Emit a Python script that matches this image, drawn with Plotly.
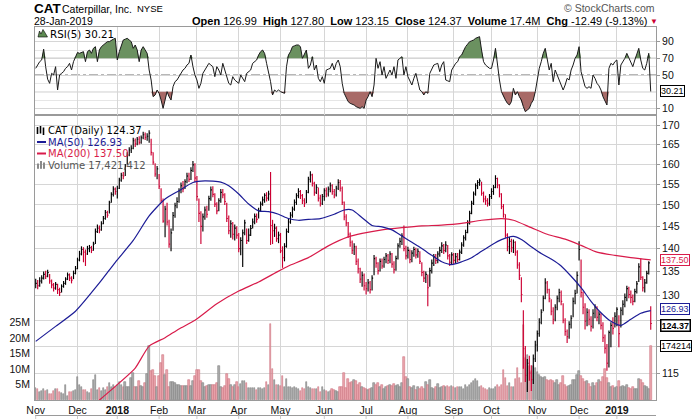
import numpy as np
import plotly.graph_objects as go

# ---------------- data ----------------
close_2017_11 = [132.5,132.0,133.0,133.6,134.4,134.0,134.8,133.0,132.2,131.5,132.3,131.2,130.6,131.9,132.5,133.4,134.3,133.6,133.2,134.6,135.6]
high_2017_11  = [133.5,133.2,133.8,134.2,135.0,135.2,135.4,134.5,133.3,132.6,132.8,132.4,131.6,132.3,133.0,133.8,134.8,134.6,134.0,135.2,136.2]
low_2017_11   = [131.5,131.3,131.8,132.5,133.3,133.4,133.8,132.4,131.5,130.8,131.2,130.3,129.9,130.6,131.6,132.2,133.2,133.0,132.5,133.4,134.4]
vol_2017_11   = [3.9,3.4,2.5,2.8,3.5,2.8,3.1,2.0,2.0,2.8,3.4,3.5,2.5,2.3,2.0,5.0,1.2,2.5,2.5,2.8,3.1]
rsi_2017_11   = [58,62,66,68,81,60,45,40,52,50,60,32,50,52,54,58,60,64,56,66,72]

close_2017_12 = [137.5,138.8,139.8,139.2,138.8,140.0,140.2,139.6,141.0,143.8,144.6,144.2,145.6,146.8,148.2,147.6,150.5,152.5,153.8,153.2]
high_2017_12  = [138.0,139.5,140.5,140.3,139.8,140.6,140.8,140.6,141.5,144.5,145.4,145.2,146.2,147.4,148.8,148.6,151.0,153.0,154.5,154.2]
low_2017_12   = [135.5,137.2,138.5,137.0,136.2,138.6,139.2,139.0,139.5,141.0,143.5,143.4,144.0,145.5,146.5,147.0,148.0,150.5,152.0,152.4]
vol_2017_12   = [7.4,5.0,4.2,3.1,3.1,2.5,2.3,3.4,6.6,8.2,3.1,3.9,2.8,3.9,3.1,4.2,5.5,4.2,5.0,4.2]
rsi_2017_12   = [77,76,77,78,66,78,80,76,82,84,66,80,84,86,88,90,90,92,93,94]

close_2018_01 = [154.0,156.0,157.2,157.0,159.5,162.3,163.6,164.0,166.0,165.2,166.4,165.6,166.8,167.6,166.9,167.2,168.0,163.0,160.5,157.5,158.8]
high_2018_01  = [154.6,156.6,157.8,158.0,160.0,163.0,164.3,164.8,166.8,166.6,167.0,167.2,167.4,168.4,168.2,168.0,168.8,166.5,163.0,160.2,159.5]
low_2018_01   = [151.5,153.8,155.6,156.2,157.0,159.8,162.0,162.8,163.8,164.4,164.8,165.0,165.2,166.4,166.2,166.0,165.5,162.2,159.8,156.8,156.2]
vol_2018_01   = [5.0,5.7,5.0,4.2,5.7,4.2,4.2,7.1,8.7,4.2,4.2,6.0,4.6,4.2,5.5,8.5,17.3,9.2,9.8,7.8,4.2]
rsi_2018_01   = [68,78,84,92,93,94,92,90,82,86,80,66,80,84,80,76,56,44,24,26,32]

close_2018_02 = [154.5,151.0,146.2,149.0,146.0,141.0,143.5,147.5,149.8,150.8,153.4,154.6,153.8,155.6,157.0,156.2,158.4,159.8,156.5]
high_2018_02  = [157.5,154.0,151.5,149.8,150.5,146.5,144.5,148.3,150.5,151.8,154.0,155.4,155.8,156.2,157.8,157.8,159.2,160.8,160.2]
low_2018_02   = [153.8,150.5,145.8,142.5,145.2,140.2,139.4,144.0,147.0,149.2,150.5,152.8,153.0,153.8,155.2,155.5,156.0,158.0,155.5]
vol_2018_02   = [7.8,11.9,14.6,8.2,9.6,4.2,5.7,5.7,5.5,5.0,5.0,4.4,4.6,4.4,4.6,6.3,4.4,6.0,7.8]
rsi_2018_02   = [28,20,10,20,30,24,20,36,42,44,48,52,56,58,62,64,74,60,50]

close_2018_03 = [152.0,148.0,145.0,147.2,148.8,147.8,151.5,153.6,152.5,150.2,148.6,151.0,153.0,152.4,150.8,146.8,144.0,145.6,143.2,144.6,143.0]
high_2018_03  = [157.0,151.5,148.5,148.0,149.6,149.8,152.2,154.4,154.5,152.8,150.6,151.6,153.8,153.8,152.8,150.5,147.5,146.4,146.0,145.4,145.0]
low_2018_03   = [151.0,146.0,141.0,143.8,146.5,147.0,148.6,151.0,151.8,149.5,147.8,148.5,150.5,151.6,150.0,146.0,143.2,142.4,142.0,141.8,142.2]
vol_2018_03   = [9.8,9.6,6.0,5.5,4.2,4.6,5.0,5.0,5.0,5.0,5.5,11.1,4.2,3.9,4.6,8.5,6.8,5.0,4.2,5.0,5.7]
rsi_2018_03   = [44,34,40,52,56,60,64,62,60,48,60,56,50,64,56,46,40,38,48,44,42]

close_2018_04 = [140.0,141.8,143.5,145.8,141.8,143.0,144.5,146.0,147.3,146.6,148.6,150.2,151.2,152.3,151.6,152.6,145.2,144.0,144.6,142.2,143.0]
high_2018_04  = [143.5,142.5,144.3,146.5,144.5,144.5,145.3,146.8,148.0,148.0,149.3,150.8,152.0,152.8,153.0,153.4,158.0,146.5,145.6,145.0,143.8]
low_2018_04   = [139.2,138.5,136.0,143.0,141.0,141.5,142.8,144.5,145.5,145.8,146.8,148.5,149.8,150.5,150.8,151.0,140.8,141.0,142.6,141.5,141.2]
vol_2018_04   = [4.2,5.3,6.0,6.2,5.5,3.9,3.9,3.9,3.9,3.1,3.9,3.9,3.4,3.9,5.7,5.0,24.6,10.0,6.6,5.0,5.0]
rsi_2018_04   = [40,50,46,42,52,54,56,64,66,68,74,78,80,76,64,54,42,26,32,30,32]

close_2018_05 = [139.5,138.0,140.5,143.8,146.0,147.6,149.0,150.6,152.2,153.2,152.2,151.0,150.4,153.0,156.2,157.3,155.2,153.0,154.2,151.6,150.4,152.0]
high_2018_05  = [143.5,140.5,141.2,144.5,146.8,148.3,149.6,151.3,152.8,154.0,153.6,152.6,151.6,153.6,156.8,158.2,157.6,155.6,155.0,154.2,152.4,152.6]
low_2018_05   = [139.0,135.8,137.2,140.2,143.5,145.6,147.0,148.6,150.0,151.6,151.4,150.2,149.5,150.4,152.8,155.4,154.4,152.2,152.6,150.8,149.6,150.0]
vol_2018_05   = [4.6,7.8,4.2,6.8,4.2,4.2,3.9,4.2,3.9,3.5,2.8,3.9,3.4,5.7,4.2,3.9,3.4,3.5,3.4,4.2,2.5,4.2]
rsi_2018_05   = [30,29,28,60,74,78,84,85,86,86,84,70,76,80,58,62,72,56,62,46,42,48]

close_2018_06 = [153.4,152.6,153.8,154.6,153.2,152.4,154.0,155.4,154.0,150.6,147.2,145.8,143.2,141.4,139.6,140.4,137.2,135.6,133.4,134.2,132.0]
high_2018_06  = [154.0,154.2,154.4,155.4,155.0,153.8,154.6,156.2,156.0,154.4,150.8,147.8,146.0,143.6,141.8,141.2,140.6,137.8,135.8,135.0,134.6]
low_2018_06   = [151.0,151.8,152.0,153.0,152.4,151.6,152.0,153.6,153.2,150.0,146.4,145.0,142.4,140.4,138.8,138.6,136.4,134.6,132.6,131.8,131.0]
vol_2018_06   = [3.1,2.8,2.5,2.8,3.5,3.1,2.8,2.5,4.2,4.2,8.7,3.9,6.8,5.5,5.7,6.3,6.0,5.0,5.5,4.2,3.9]
rsi_2018_06   = [40,56,57,58,64,56,64,68,60,40,28,22,18,16,15,14,12,11,10,12,10]

close_2018_07 = [131.4,132.6,131.2,133.6,137.8,136.8,135.2,137.2,136.2,137.6,138.4,137.4,138.8,136.6,135.4,137.8,140.6,141.6,142.8,140.0,138.4]
high_2018_07  = [132.8,133.4,133.0,134.2,138.6,138.2,137.0,137.8,137.8,138.2,139.0,138.8,139.4,139.0,137.2,138.4,141.2,142.4,143.4,145.2,140.6]
low_2018_07   = [130.2,130.8,130.4,131.0,134.2,135.8,134.4,135.0,135.6,135.8,136.8,136.6,136.8,135.8,134.6,135.2,137.6,140.2,140.8,139.4,137.6]
vol_2018_07   = [3.5,3.1,3.4,3.9,5.5,5.0,5.5,4.2,5.0,3.4,4.2,4.4,5.0,4.6,5.3,4.6,5.0,4.2,5.5,13.8,7.4]
rsi_2018_07   = [20,24,30,24,38,70,58,66,50,60,46,52,56,50,60,46,68,70,72,50,60]

close_2018_08 = [139.6,137.6,139.0,139.8,138.6,139.4,137.2,134.8,133.6,134.4,131.6,135.2,136.8,138.2,137.4,138.8,139.6,140.6,139.6,140.8,138.4,137.0,138.6]
high_2018_08  = [140.4,139.8,139.6,140.4,140.2,140.0,139.4,137.0,135.2,135.0,134.4,135.8,137.6,138.8,138.8,139.4,140.4,141.4,141.0,141.6,140.8,138.8,139.2]
low_2018_08   = [137.8,136.8,137.0,138.2,137.8,138.0,136.6,134.0,132.8,132.6,127.8,131.8,134.6,136.2,136.6,136.8,138.2,139.0,138.8,139.2,137.6,136.2,136.6]
vol_2018_08   = [6.8,4.2,3.9,4.6,3.1,4.2,3.5,4.2,3.5,5.7,5.0,6.6,3.9,3.4,4.2,5.3,3.9,4.2,4.4,4.2,4.6,4.2,4.6]
rsi_2018_08   = [48,42,38,46,52,42,32,30,26,30,28,52,58,62,63,64,54,62,66,44,43,42,56]

close_2018_09 = [137.4,138.2,137.6,139.2,140.8,142.4,143.6,145.8,148.0,150.4,152.6,154.6,155.4,155.8,152.8,151.4,151.0,150.4,152.0]
high_2018_09  = [139.0,139.0,139.0,139.8,141.4,143.0,144.2,146.4,148.6,151.0,153.2,155.2,156.0,156.4,155.6,153.2,152.2,151.6,152.6]
low_2018_09   = [136.6,136.8,137.0,137.4,138.8,140.4,141.8,143.4,145.4,147.8,150.0,152.2,153.8,154.6,152.2,150.6,150.0,149.6,149.8]
vol_2018_09   = [4.2,3.9,4.2,4.2,4.2,3.5,5.0,4.2,5.0,5.5,6.0,6.9,6.0,4.2,4.6,3.9,3.4,3.1,3.9]
rsi_2018_09   = [60,64,66,72,74,80,84,87,90,91,92,94,95,96,80,66,62,60,58]

close_2018_10 = [153.2,154.2,156.4,154.8,152.6,149.6,147.8,143.0,140.4,141.6,140.2,141.4,139.2,136.4,134.2,130.2,119.5,114.6,116.8,115.0,113.8,117.6,120.2]
high_2018_10  = [154.0,154.8,157.2,156.6,155.0,152.8,150.2,147.8,143.4,142.6,142.2,142.0,141.6,139.6,137.0,133.8,127.0,120.0,117.6,118.2,116.4,118.4,121.0]
low_2018_10   = [151.4,152.4,154.0,154.0,151.8,149.0,147.0,142.4,139.4,138.8,139.2,139.0,138.4,135.6,133.2,128.6,115.8,113.4,111.6,113.6,111.8,113.0,117.0]
vol_2018_10   = [3.5,3.5,4.2,5.0,4.2,5.0,9.6,7.1,4.6,5.5,4.2,4.2,6.8,10.3,7.1,5.5,24.3,13.5,14.6,10.9,9.3,10.9,10.3]
rsi_2018_10   = [58,68,82,60,44,30,24,20,16,14,18,34,26,30,24,20,12,6,8,10,16,20,30]

close_2018_11 = [122.4,124.6,126.6,129.4,132.6,131.2,129.4,126.8,125.2,127.6,129.4,130.6,128.8,125.0,122.8,121.8,124.2,125.4,128.8,130.4,134.2]
high_2018_11  = [123.0,125.4,127.2,130.0,133.6,133.0,131.4,129.2,127.6,128.2,130.0,131.4,131.0,128.4,125.4,123.2,124.8,126.0,129.6,131.2,135.0]
low_2018_11   = [119.0,121.8,124.2,126.8,129.2,130.4,128.6,126.0,124.2,124.8,127.0,128.6,128.0,124.4,122.0,120.6,121.4,123.4,125.6,128.2,130.4]
vol_2018_11   = [9.0,8.0,7.5,7.1,7.4,6.6,6.0,6.6,6.0,5.5,6.3,5.0,5.5,7.6,5.0,4.2,4.6,5.0,6.6,6.6,8.2]
rsi_2018_11   = [44,58,66,76,82,68,56,64,42,56,50,44,38,32,38,46,44,56,62,70,74]

close_2018_12 = [139.8,130.6,127.6,124.8,126.6,125.2,123.8,126.4,127.6,125.6,126.2,124.0,121.6,119.6,116.8,122.6,124.0,123.4,125.8]
high_2018_12  = [141.6,137.6,130.8,128.4,127.4,127.2,125.8,127.2,128.2,127.8,126.8,126.4,124.6,122.2,120.4,123.0,124.6,125.6,126.6]
low_2018_12   = [137.4,129.6,126.2,123.2,123.8,124.0,122.8,123.4,125.4,124.8,124.2,123.2,120.8,118.6,115.4,116.0,119.8,122.2,123.6]
vol_2018_12   = [9.2,7.8,6.8,5.7,6.0,5.3,4.2,5.5,4.6,5.5,6.6,5.7,7.4,10.0,7.1,5.5,4.2,4.6,3.9]
rsi_2018_12   = [84,54,44,36,34,36,34,50,46,40,37,32,24,18,14,58,64,62,66]

close_2019_01 = [127.2,122.4,127.0,128.2,129.6,131.4,130.2,129.6,128.8,130.8,132.4,136.0,133.8,131.6,132.6,134.6,136.86,124.37]
high_2019_01  = [127.6,126.0,127.6,129.0,130.4,132.0,131.8,131.0,130.2,131.4,133.0,136.8,137.8,134.0,133.4,135.2,137.2,127.80]
low_2019_01   = [123.8,119.8,123.6,126.0,127.6,128.8,129.4,128.4,128.0,128.6,130.4,132.8,133.2,130.8,130.6,132.4,134.4,123.15]
vol_2019_01   = [4.2,6.0,4.2,4.6,4.2,5.0,3.9,3.4,4.2,3.5,3.4,6.8,6.3,5.5,4.6,4.2,3.5,17.42]
rsi_2019_01   = [68,38,62,66,70,76,70,66,60,68,74,82,68,58,56,64,76,30.21]

month_labels = ['Nov', 'Dec', '<b>2018</b>', 'Feb', 'Mar', 'Apr', 'May', 'Jun',
                'Jul', 'Aug', 'Sep', 'Oct', 'Nov', 'Dec', '<b>2019</b>']
price_ticks = [115, 120, 125, 130, 135, 140, 145, 150, 155, 160, 165, 170]
price_tick_text = ['115', '', '', '130', '135', '140', '145', '150', '155', '160', '165', '170']  # 120/125 sit under tags
rsi_ticks = [10, 50, 70, 90]
vol_ticks = [5, 10, 15, 20, 25]
vol_tick_text = ['5M', '10M', '15M', '20M', '25M']

# moving averages read at sample days (trading-day index)
ma50_day = [0,10,20,32,40,49,57,65,72,79,85,93,97,102,107,112,117,122,127,132,137,143,150,155,159,164,169,174,179,184,189,194,199,204,209,214,219,224,229,234,240,244,249,254,259,264,269,274,279,284,289,294,299,304,309]
ma50_val = [120.9,123.8,126.8,132.6,137.0,141.8,147.4,151.4,153.4,155.4,155.8,155.5,154.6,152.6,150.2,148.6,148.4,147.8,146.8,146.4,146.6,146.8,147.8,148.8,148.8,147.0,145.2,144.9,144.2,142.8,141.4,140.0,138.5,137.1,136.5,137.1,138.0,139.4,140.8,142.0,142.7,142.0,140.4,138.9,137.7,136.2,134.0,131.6,128.8,126.5,124.8,124.0,125.2,126.4,126.93]
ma200_day = [30,40,50,57,65,72,80,91,102,112,122,127,137,147,157,164,174,184,194,204,214,224,234,240,249,257,266,274,282,291,299,309]
ma200_val = [109.6,112.6,115.9,120.0,121.6,123.3,125.0,128.3,130.9,132.8,135.1,136.2,138.0,140.6,142.6,143.4,144.2,144.7,145.1,145.3,145.7,146.4,146.8,146.4,144.7,143.2,142.1,140.7,139.2,138.5,138.0,137.50]
last_volume = 17421412

months = ['2017_11', '2017_12', '2018_01', '2018_02', '2018_03', '2018_04', '2018_05', '2018_06',
          '2018_07', '2018_08', '2018_09', '2018_10', '2018_11', '2018_12', '2019_01']
g = globals()
close = sum((g['close_' + m] for m in months), [])
high = sum((g['high_' + m] for m in months), [])
low = sum((g['low_' + m] for m in months), [])
vol = sum((g['vol_' + m] for m in months), [])
rsi = sum((g['rsi_' + m] for m in months), [])
month_start = list(np.cumsum([0] + [len(g['close_' + m]) for m in months[:-1]]))

n = len(close)
days = np.arange(n)
c = np.array(close)
r = np.array(rsi, dtype=float)
up = np.r_[True, c[1:] >= c[:-1]]
last = n - 1

# ---------------- geometry ----------------
W, H = 694, 419
PL, PR, PT, PB = 35, 656.5, 27, 400
SPLIT = 115
PW, PH = PR - PL, PB - PT
def pxx(x): return (x - PL) / PW
def pyy(y): return (PB - y) / PH
main_top = pyy(SPLIT)

UPC, DNC = '#000000', '#cc0033'
MA50C, MA200C = '#1c1c96', '#d81b4a'
GRID = '#d6d6d6'
AX = '#9a9a9a'
FT = 'Liberation Sans, Arial, sans-serif'
FL = 'DejaVu Sans, Verdana, sans-serif'

fig = go.Figure()

# volume (base axis y, drawn under price)
vcol = np.where(up, '#adadad', '#eba6ae')
vline = np.where(up, '#7f7f7f', '#cc7482')
fig.add_trace(go.Bar(x=days, y=vol, xaxis='x', yaxis='y', width=0.78,
                     marker=dict(color=list(vcol), line=dict(color=list(vline), width=0.6)),
                     hoverinfo='skip', showlegend=False))

# price HLC bars
def segs(mask):
    xs, ys = [], []
    for i in days[mask]:
        xs += [i, i, None, i, i + 0.55, None]
        ys += [low[i], high[i], None, close[i], close[i], None]
    return xs, ys
for mask, col in ((up, UPC), (~up, DNC)):
    xs, ys = segs(mask)
    fig.add_trace(go.Scatter(x=xs, y=ys, xaxis='x', yaxis='y3', mode='lines',
                             line=dict(color=col, width=1.15), hoverinfo='skip', showlegend=False))

fig.add_trace(go.Scatter(x=ma200_day, y=ma200_val, xaxis='x', yaxis='y3', mode='lines',
                         line=dict(color=MA200C, width=1.2, shape='spline', smoothing=0.6),
                         showlegend=False, hoverinfo='skip'))
fig.add_trace(go.Scatter(x=ma50_day, y=ma50_val, xaxis='x', yaxis='y3', mode='lines',
                         line=dict(color=MA50C, width=1.2, shape='spline', smoothing=0.6),
                         showlegend=False, hoverinfo='skip'))

# RSI panel
clear = dict(width=0, color='rgba(0,0,0,0)')
fig.add_trace(go.Scatter(x=days, y=np.full(n, 70.0), xaxis='x2', yaxis='y2', mode='lines',
                         line=clear, showlegend=False, hoverinfo='skip'))
fig.add_trace(go.Scatter(x=days, y=np.fmax(r, 70), xaxis='x2', yaxis='y2', mode='lines',
                         fill='tonexty', fillcolor='#6b9160', line=clear, showlegend=False, hoverinfo='skip'))
fig.add_trace(go.Scatter(x=days, y=np.full(n, 30.0), xaxis='x2', yaxis='y2', mode='lines',
                         line=clear, showlegend=False, hoverinfo='skip'))
fig.add_trace(go.Scatter(x=days, y=np.fmin(r, 30), xaxis='x2', yaxis='y2', mode='lines',
                         fill='tonexty', fillcolor='#a86a67', line=clear, showlegend=False, hoverinfo='skip'))
fig.add_trace(go.Scatter(x=days, y=r, xaxis='x2', yaxis='y2', mode='lines',
                         line=dict(color='#1a1a1a', width=1), showlegend=False, hoverinfo='skip'))

XR = [-0.35, -0.35 + PW / 1.992]

# tag pointers (outside plot, not clipped)
tx = XR[1] + 2.0
ptr = dict(symbol='triangle-left', size=8, color='white')
fig.add_trace(go.Scatter(x=[tx], y=[r[last]], xaxis='x2', yaxis='y2', mode='markers', cliponaxis=False,
                         marker=dict(**ptr, line=dict(color='black', width=1)),
                         showlegend=False, hoverinfo='skip'))
fig.add_trace(go.Scatter(x=[tx, tx, tx], y=[ma200_val[-1], ma50_val[-1], close[last]], xaxis='x', yaxis='y3',
                         mode='markers', cliponaxis=False,
                         marker=dict(**ptr, line=dict(color=[MA200C, MA50C, 'black'], width=1)),
                         showlegend=False, hoverinfo='skip'))
fig.add_trace(go.Scatter(x=[tx], y=[vol[last]], xaxis='x', yaxis='y', mode='markers', cliponaxis=False,
                         marker=dict(**ptr, line=dict(color='black', width=1)),
                         showlegend=False, hoverinfo='skip'))

lo, hi = 110.2, 172.9
tf = dict(family=FT, size=10.5, color='#111')
fig.update_layout(
    width=W, height=H, margin=dict(l=PL, r=W - PR, t=PT, b=H - PB, autoexpand=False),
    paper_bgcolor='white', plot_bgcolor='white', showlegend=False, bargap=0,
    xaxis=dict(domain=[0, 1], anchor='y', range=XR, tickmode='array', tickvals=month_start,
               ticktext=month_labels, showgrid=True, gridcolor=GRID, gridwidth=1, ticks='',
               tickfont=tf, showline=True, linecolor=AX, automargin=False,
               mirror=True, zeroline=False),
    xaxis2=dict(domain=[0, 1], anchor='y2', matches='x', range=XR, tickmode='array', tickvals=month_start,
                showticklabels=False, showgrid=True, gridcolor=GRID, ticks='', showline=True,
                linecolor=AX, mirror=True, zeroline=False, automargin=False),
    yaxis=dict(domain=[0, main_top], anchor='x', range=[0, (PB - SPLIT) / 3.1], side='left',
               tickmode='array', tickvals=vol_ticks, ticktext=vol_tick_text,
               showgrid=False, zeroline=False, ticks='', tickfont=tf, automargin=False,
               showline=True, linecolor=AX, mirror=True, ticklabelstandoff=2),
    yaxis3=dict(overlaying='y', anchor='x', side='right', type='log',
                range=[np.log10(lo), np.log10(hi)], tickmode='array',
                tickvals=price_ticks, ticktext=price_tick_text,
                showgrid=True, gridcolor=GRID, zeroline=False, ticks='outside', ticklen=3, tickcolor=AX,
                tickfont=tf, showline=False, automargin=False),
    yaxis2=dict(domain=[main_top, 1], anchor='x2', side='right', range=[2, 107.6],
                tickmode='array', tickvals=rsi_ticks, showgrid=True, gridcolor=GRID,
                minor=dict(tickvals=[20, 30, 40, 60, 80], showgrid=True, gridcolor='#e6e6e6'),
                zeroline=False, ticks='outside', ticklen=3, tickcolor=AX, automargin=False,
                tickfont=tf, showline=True, linecolor=AX, mirror=True),
)

# legend row positions (px)
ROW = [130.5, 142.0, 153.5, 165.0]

shapes = []
for lvl, dash in ((70, 'solid'), (30, 'solid'), (50, 'dashdot')):
    shapes.append(dict(type='line', xref='x2 domain', yref='y2', x0=0, x1=1, y0=lvl, y1=lvl,
                       line=dict(color='#6e6e6e', width=1, dash=dash), layer='below'))
# partial lower panel border
shapes.append(dict(type='line', xref='paper', yref='paper', x0=0, x1=1, y0=pyy(415.5), y1=pyy(415.5),
                   line=dict(color=AX, width=1)))
for ms in month_start:
    shapes.append(dict(type='line', xref='x', yref='paper', x0=ms, x1=ms, y0=pyy(415.5), y1=pyy(420),
                       line=dict(color='#c8c8c8', width=1)))
# legend icons
def poly(pts, fill, line='black', lw=0.6):
    p = 'M ' + ' L '.join(f'{pxx(x):.5f},{pyy(y):.5f}' for x, y in pts) + ' Z'
    return dict(type='path', xref='paper', yref='paper', path=p, fillcolor=fill, line=dict(color=line, width=lw))
shapes.append(poly([(38, 37), (39.5, 31), (41, 34), (43, 29.5), (45.5, 33.5), (47.5, 37)], '#5d8a52'))
for xx, d0, d1 in ((37.5, -3.5, 3.5), (40.5, -4.5, 3.0), (43.5, -3.0, 4.5)):
    shapes.append(dict(type='line', xref='paper', yref='paper', x0=pxx(xx), x1=pxx(xx),
                       y0=pyy(ROW[0] + d0), y1=pyy(ROW[0] + d1), line=dict(color='black', width=1.6)))
shapes.append(dict(type='line', xref='paper', yref='paper', x0=pxx(37), x1=pxx(46), y0=pyy(ROW[1]), y1=pyy(ROW[1]),
                   line=dict(color=MA50C, width=2)))
shapes.append(dict(type='line', xref='paper', yref='paper', x0=pxx(37), x1=pxx(46), y0=pyy(ROW[2]), y1=pyy(ROW[2]),
                   line=dict(color=MA200C, width=2)))
for xx, top in ((38, -1.5), (41, -4.0), (44, -2.5)):
    shapes.append(dict(type='rect', xref='paper', yref='paper', x0=pxx(xx - 1), x1=pxx(xx + 1),
                       y0=pyy(ROW[3] + 3.8), y1=pyy(ROW[3] + top), fillcolor='#8a8a8a', line=dict(width=0)))
fig.update_layout(shapes=shapes)

ann = []
def txt(x, y, s, size=10.5, color='#000', family=FT, anchor='left'):
    ann.append(dict(xref='paper', yref='paper', x=pxx(x), y=pyy(y), text=s, showarrow=False,
                    xanchor=anchor, yanchor='middle', borderpad=0,
                    font=dict(family=family, size=size, color=color)))
txt(33, 8.5, '<b>CAT</b>', size=13.5)
txt(61, 9, 'Caterpillar, Inc.', size=10.5)
txt(136, 9, 'NYSE', size=9.5)
txt(33, 21, '28-Jan-2019', size=10.5)
txt(656, 7.5, '© StockCharts.com', size=10.5, color='#555', anchor='right')
txt(648.5, 21, '<b>Open</b> 126.99  <b>High</b> 127.80  <b>Low</b> 123.15  <b>Close</b> 124.37  '
               '<b>Volume</b> 17.4M  <b>Chg</b> -12.49 (-9.13%)', size=11, anchor='right')
txt(649.5, 21.5, '▼', size=8, color=DNC)
txt(49, 33.5, 'RSI(5) %.2f' % r[last], size=10.3, family=FL)
txt(47.5, ROW[0], 'CAT (Daily) %.2f' % close[last], size=10, family=FL)
txt(47, ROW[1], 'MA(50) %.2f' % ma50_val[-1], size=10, family=FL, color=MA50C)
txt(47, ROW[2], 'MA(200) %.2f' % ma200_val[-1], size=10, family=FL, color=MA200C)
txt(47, ROW[3], 'Volume {:,}'.format(last_volume), size=10, family=FL, color='#555')

def tag(yref, y, s, color, bw=1, ys=0):
    ann.append(dict(xref='paper', x=1, xanchor='left', xshift=3.5, yref=yref, y=y, yanchor='middle',
                    yshift=ys, text=s, showarrow=False, bgcolor='white', bordercolor=color, borderwidth=bw,
                    borderpad=0, font=dict(family=FT, size=9, color=color)))
tag('y2', r[last], '%.2f' % r[last], 'black')
tag('y3', np.log10(ma200_val[-1]), '%.2f' % ma200_val[-1], MA200C)
tag('y3', np.log10(ma50_val[-1]), '%.2f' % ma50_val[-1], MA50C, ys=2)
tag('y3', np.log10(close[last]), '<b>%.2f</b>' % close[last], 'black', bw=1.5, ys=-2)
tag('y', vol[last], str(last_volume)[:6], 'black')
fig.update_layout(annotations=ann)

fig.write_html('out.html')
